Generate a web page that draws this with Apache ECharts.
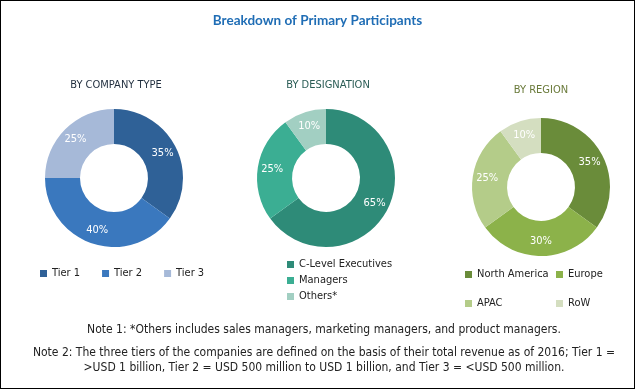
<!DOCTYPE html>
<html><head><meta charset="utf-8">
<script src="https://cdn.jsdelivr.net/npm/echarts@6/dist/echarts.min.js"></script>
<style>
html,body{margin:0;padding:0;background:#fff;}
#wrap{position:absolute;left:0;top:0;width:633px;height:387px;border:1px solid #000;}
#c{width:633px;height:387px;}
</style></head>
<body><div id="wrap"><div id="c"></div></div>
<script>
const companyCats = ['Tier 1', 'Tier 2', 'Tier 3'];
const companyVals = [35, 40, 25];
const designCats = ['C-Level Executives', 'Managers', 'Others*'];
const designVals = [65, 25, 10];
const regionCats = ['North America', 'Europe', 'APAC', 'RoW'];
const regionVals = [35, 30, 25, 10];

const companyColors = ['#2F6197', '#3A78BE', '#A6B9D8'];
const designColors = ['#2E8B78', '#3BAE93', '#A2CFC2'];
const regionColors = ['#6A8C3A', '#8CB24A', '#B4CC89', '#D4DEC0'];

const F = "'DejaVu Sans Condensed', 'Liberation Sans', sans-serif";
const chart = echarts.init(document.getElementById('c'));

function pie(cats, vals, colors, center) {
  return {
    type: 'pie', radius: [34, 69], center: center, startAngle: 90, clockwise: true,
    silent: true, avoidLabelOverlap: false,
    label: { show: true, position: 'inside', formatter: '{c}%', color: '#fff', fontFamily: F, fontSize: 11 },
    labelLine: { show: false },
    itemStyle: { borderWidth: 0 },
    data: cats.map((n, i) => ({ name: n, value: vals[i], itemStyle: { color: colors[i] } }))
  };
}
const legBase = { icon: 'rect', itemWidth: 7, itemHeight: 7, itemGap: 6, selectedMode: false,
  textStyle: { fontFamily: F, fontSize: 11, color: '#222' } };

chart.setOption({
  animation: false,
  title: [
    { text: 'Breakdown of Primary Participants', left: 'center', top: 8,
      textStyle: { fontFamily: 'Lato, sans-serif', fontWeight: 'bold', fontSize: 13.5, color: '#1F6DB5' } },
    { text: 'BY COMPANY TYPE', left: 110, top: 74, textAlign: 'center',
      textStyle: { fontFamily: F, fontWeight: 'normal', fontSize: 11, color: '#1F2D3D' } },
    { text: 'BY DESIGNATION', left: 322, top: 74, textAlign: 'center',
      textStyle: { fontFamily: F, fontWeight: 'normal', fontSize: 11, color: '#2A5C55' } },
    { text: 'BY REGION', left: 535, top: 79, textAlign: 'center',
      textStyle: { fontFamily: F, fontWeight: 'normal', fontSize: 11, color: '#6A7A3A' } },
    { text: 'Note 1: *Others includes sales managers, marketing managers, and product managers.',
      left: 318, top: 318, textAlign: 'center',
      textStyle: { fontFamily: F, fontWeight: 'normal', fontSize: 12, color: '#222' } },
    { text: 'Note 2: The three tiers of the companies are defined on the basis of their total revenue as of 2016; Tier 1 =\n>USD 1 billion, Tier 2 = USD 500 million to USD 1 billion, and Tier 3 = <USD 500 million.',
      left: 318, top: 339, textAlign: 'center',
      textStyle: { fontFamily: F, fontWeight: 'normal', fontSize: 12, color: '#222', lineHeight: 15, align: 'center' } }
  ],
  legend: [
    Object.assign({}, legBase, { data: companyCats, left: 34, top: 262, itemGap: 22 }),
    Object.assign({}, legBase, { data: designCats, orient: 'vertical', left: 281, top: 253, itemGap: 5 }),
    Object.assign({}, legBase, { data: [regionCats[0]], left: 459, top: 263 }),
    Object.assign({}, legBase, { data: [regionCats[1]], left: 550, top: 263 }),
    Object.assign({}, legBase, { data: [regionCats[2]], left: 459, top: 292 }),
    Object.assign({}, legBase, { data: [regionCats[3]], left: 550, top: 292 })
  ],
  series: [
    pie(companyCats, companyVals, companyColors, [113, 177]),
    pie(designCats, designVals, designColors, [325, 177]),
    pie(regionCats, regionVals, regionColors, [540, 186])
  ]
});
</script></body></html>
